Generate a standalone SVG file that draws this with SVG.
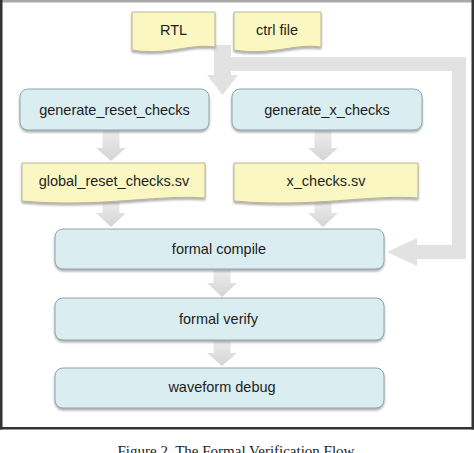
<svg xmlns="http://www.w3.org/2000/svg" width="474" height="453" viewBox="0 0 474 453">
<style>
.doc{fill:#fbf7c3;stroke:#b9b79a;stroke-width:1}
.box{fill:#daedf1;stroke:#8fa6ad;stroke-width:1}
.lbl{font-family:"Liberation Sans",Arial,sans-serif;font-size:14.5px;fill:#1e1e1e;text-anchor:middle}
.arr{fill:url(#ag)}
.band{fill:#e2e2e2}
.cap{font-family:"Liberation Serif","Times New Roman",serif;font-size:15px;fill:#222;text-anchor:middle}
</style>
<defs>
<linearGradient id="ag" x1="0" y1="0" x2="0" y2="1">
<stop offset="0" stop-color="#ececec"/>
<stop offset="1" stop-color="#d4d4d4"/>
</linearGradient>
<filter id="sh" x="-10%" y="-20%" width="120%" height="150%">
<feDropShadow dx="0" dy="2" stdDeviation="1.2" flood-color="#666" flood-opacity="0.55"/>
</filter>
</defs>
<rect x="0" y="0" width="474" height="453" fill="#ffffff"/>
<!-- frame -->
<rect x="0" y="0" width="474" height="2.5" fill="#a9a9a9"/>
<rect x="0" y="0" width="2.5" height="429.5" fill="#333"/>
<rect x="471.5" y="0" width="2.5" height="429.5" fill="#333"/>
<rect x="0" y="427" width="474" height="2.5" fill="#333"/>

<g id="connectors">
<path class="band" d="M231,57 H466 V259 H417 V266 L387,252 L417,238 V245 H452 V71 H231 Z"/>
<path class="band" d="M214,45 H231 V75 H238 L222.5,95 L207,75 H214 Z"/>
<polygon class="arr" points="102.5,131 119.5,131 119.5,148 126,148 111,161 96,148 102.5,148"/>
<polygon class="arr" points="314.5,131 331.5,131 331.5,148 338,148 323,161 308,148 314.5,148"/>
<polygon class="arr" points="102.5,202 119.5,202 119.5,213 126,213 111,227 96,213 102.5,213"/>
<polygon class="arr" points="314.5,202 331.5,202 331.5,213 338,213 323,227 308,213 314.5,213"/>
<polygon class="arr" points="213.5,270 230.5,270 230.5,283 237,283 222,297 207,283 213.5,283"/>
<polygon class="arr" points="213.5,341 230.5,341 230.5,353 237,353 222,366 207,353 213.5,353"/>
</g>

<g id="rtl">
<path class="doc" filter="url(#sh)" d="M132,12 H215 V47 C190,43 168,56 132,50 Z"/>
<text class="lbl" x="173.5" y="34.5">RTL</text>
</g>
<g id="ctrl">
<path class="doc" filter="url(#sh)" d="M234,12 H321 V47 C295,43 272,56 234,50 Z"/>
<text class="lbl" x="277" y="34.5">ctrl file</text>
</g>
<g id="gen_reset">
<rect class="box" filter="url(#sh)" x="20" y="89" width="189" height="41" rx="8"/>
<text class="lbl" x="114.5" y="115">generate_reset_checks</text>
</g>
<g id="gen_x">
<rect class="box" filter="url(#sh)" x="232" y="89" width="190" height="41" rx="8"/>
<text class="lbl" x="327" y="115">generate_x_checks</text>
</g>
<g id="global_reset">
<path class="doc" filter="url(#sh)" d="M22,163 H205 V198 C160,194 100,208 22,201 Z"/>
<text class="lbl" x="114" y="186">global_reset_checks.sv</text>
</g>
<g id="x_checks">
<path class="doc" filter="url(#sh)" d="M234,163 H418 V198 C373,194 313,208 234,201 Z"/>
<text class="lbl" x="326" y="186">x_checks.sv</text>
</g>
<g id="compile">
<rect class="box" filter="url(#sh)" x="55" y="229" width="329" height="40" rx="8"/>
<text class="lbl" x="219" y="254">formal compile</text>
</g>
<g id="verify">
<rect class="box" filter="url(#sh)" x="55" y="298" width="329" height="42" rx="8"/>
<text class="lbl" x="218.5" y="324">formal verify</text>
</g>
<g id="debug">
<rect class="box" filter="url(#sh)" x="55" y="368" width="329" height="40" rx="8"/>
<text class="lbl" x="222" y="392">waveform debug</text>
</g>
<text class="cap" x="236" y="456">Figure 2. The Formal Verification Flow</text>
</svg>
